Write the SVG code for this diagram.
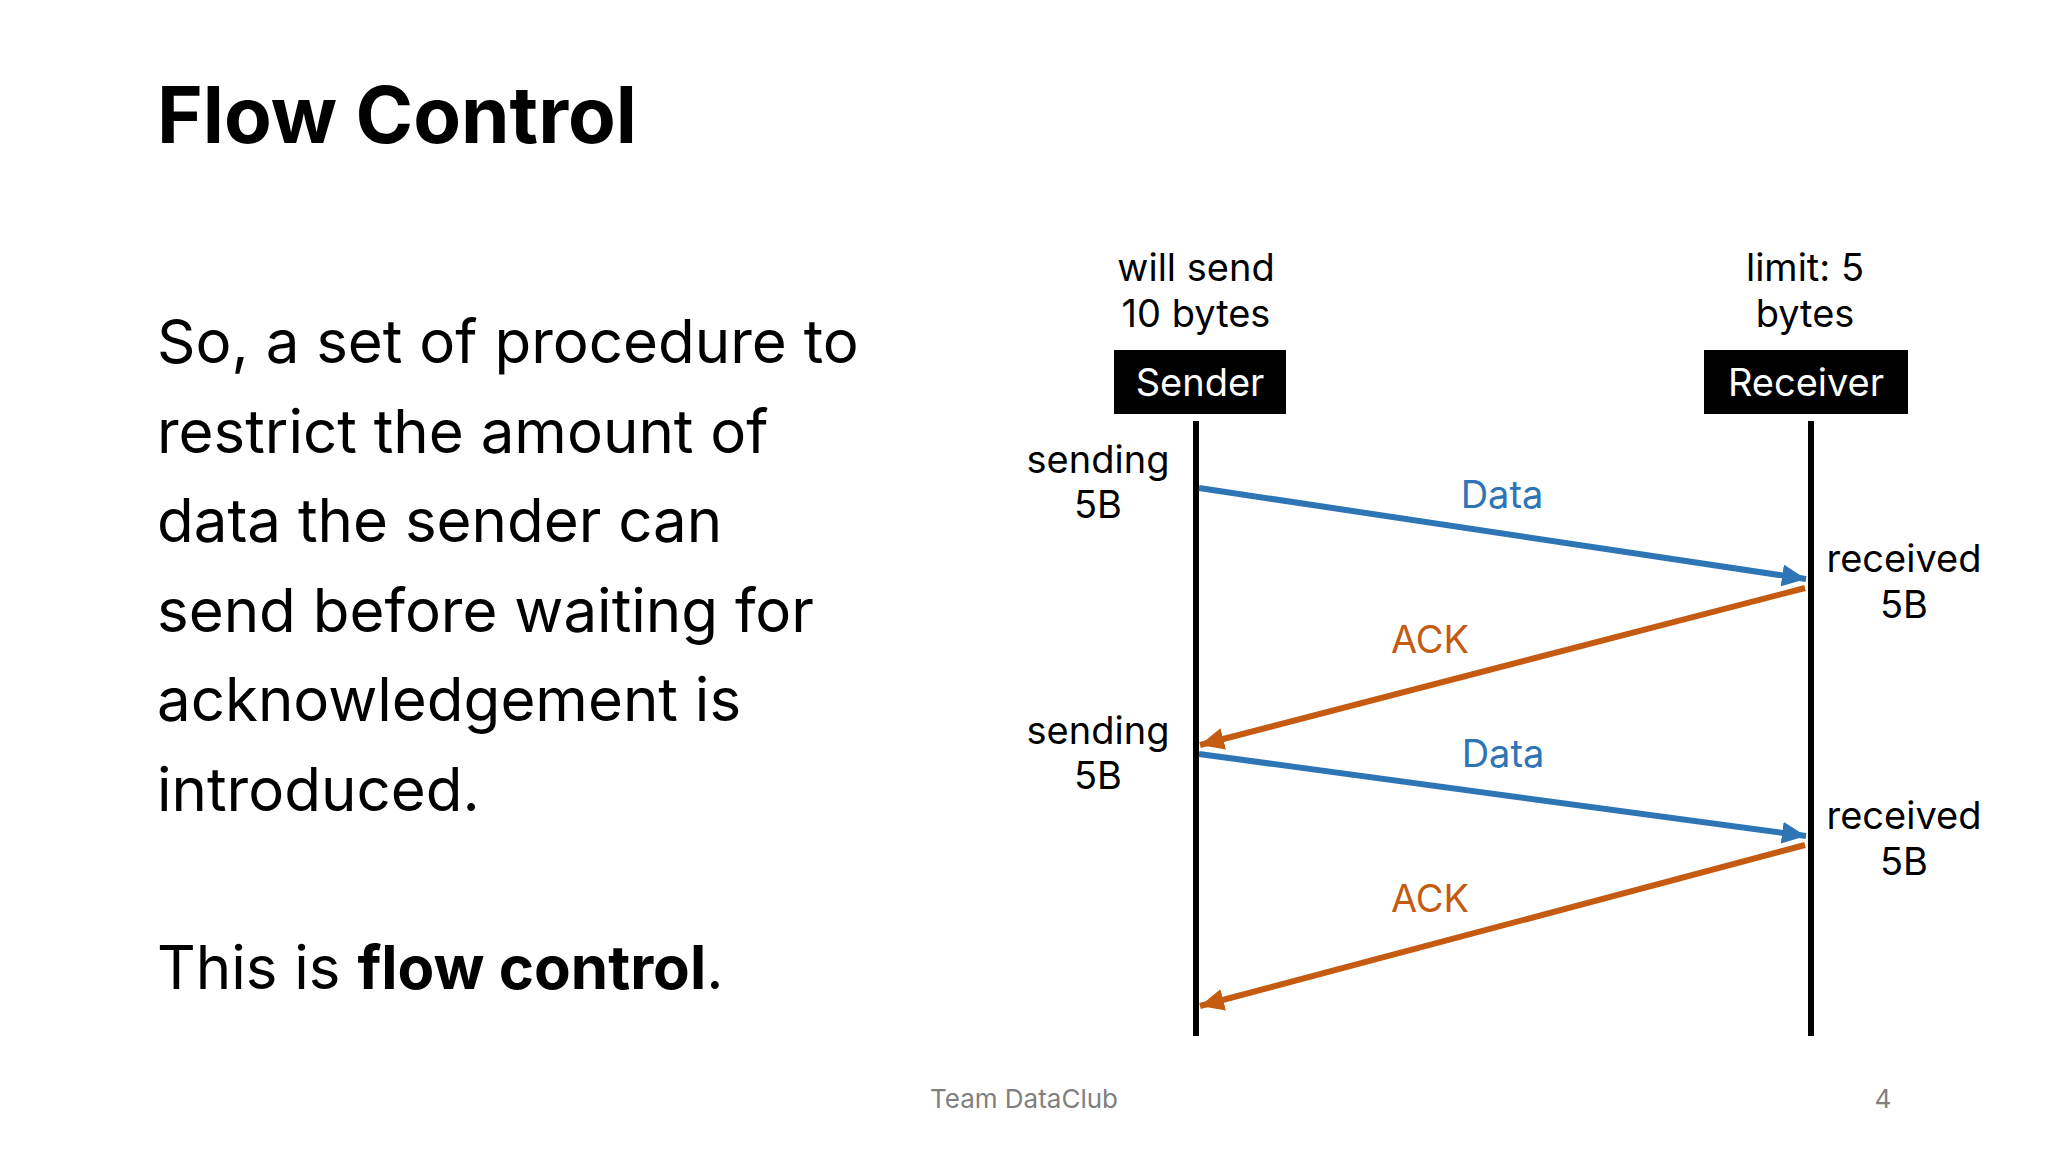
<svg xmlns="http://www.w3.org/2000/svg" width="2048" height="1152" viewBox="0 0 2048 1152">
<style>
text{font-family:Inter,"Noto Sans","Liberation Sans",sans-serif;}
.title{font-size:78px;font-weight:700;fill:#000;}
.body{font-size:60px;fill:#000;}
.lbl{font-size:38px;fill:#000;text-anchor:middle;}
.box{fill:#000;}
.boxt{font-size:38px;fill:#fff;text-anchor:middle;}
.life{stroke:#000;stroke-width:6;}
.data{stroke:#2E75B6;stroke-width:6;fill:none;}
.ack{stroke:#C55A11;stroke-width:6;fill:none;}
.dlbl{font-size:38px;fill:#2E75B6;text-anchor:middle;}
.albl{font-size:38px;fill:#C55A11;text-anchor:middle;}
.foot{font-size:26px;fill:#808080;}
</style>
<defs>
<marker id="ab" markerUnits="userSpaceOnUse" markerWidth="26" markerHeight="22" refX="24" refY="11" orient="auto"><path d="M0,0 L24,11 L0,22 Z" fill="#2E75B6"/></marker>
<marker id="ao" markerUnits="userSpaceOnUse" markerWidth="26" markerHeight="22" refX="24" refY="11" orient="auto"><path d="M0,0 L24,11 L0,22 Z" fill="#C55A11"/></marker>
</defs>
<rect width="2048" height="1152" fill="#fff"/>
<text class="title" x="157" y="143">Flow Control</text>
<g id="bodytext">
<text class="body" x="157" y="363">So, a set of procedure to</text>
<text class="body" x="157" y="453">restrict the amount of</text>
<text class="body" x="157" y="542">data the sender can</text>
<text class="body" x="157" y="632">send before waiting for</text>
<text class="body" x="157" y="721">acknowledgement is</text>
<text class="body" x="157" y="811">introduced.</text>
<text class="body" x="157" y="989">This is <tspan font-weight="700">flow control</tspan>.</text>
</g>
<g id="sender">
<text class="lbl" x="1196" y="281">will send</text>
<text class="lbl" x="1196" y="327">10 bytes</text>
<rect class="box" x="1114" y="350" width="172" height="64"/>
<text class="boxt" x="1200" y="396">Sender</text>
<line class="life" x1="1196" y1="421" x2="1196" y2="1036"/>
</g>
<g id="receiver">
<text class="lbl" x="1805" y="281">limit: 5</text>
<text class="lbl" x="1805" y="327">bytes</text>
<rect class="box" x="1704" y="350" width="204" height="64"/>
<text class="boxt" x="1806" y="396">Receiver</text>
<line class="life" x1="1811" y1="421" x2="1811" y2="1036"/>
</g>
<g id="annotations">
<text class="lbl" x="1098" y="473">sending</text>
<text class="lbl" x="1098" y="518">5B</text>
<text class="lbl" x="1098" y="744">sending</text>
<text class="lbl" x="1098" y="789">5B</text>
<text class="lbl" x="1904" y="572">received</text>
<text class="lbl" x="1904" y="618">5B</text>
<text class="lbl" x="1904" y="829">received</text>
<text class="lbl" x="1904" y="875">5B</text>
</g>
<g id="connectors">
<line class="data" x1="1199" y1="488" x2="1806" y2="579" marker-end="url(#ab)"/>
<line class="ack" x1="1805" y1="588" x2="1200" y2="745" marker-end="url(#ao)"/>
<line class="data" x1="1199" y1="754" x2="1806" y2="836" marker-end="url(#ab)"/>
<line class="ack" x1="1805" y1="845" x2="1200" y2="1006" marker-end="url(#ao)"/>
<text class="dlbl" x="1502" y="508">Data</text>
<text class="albl" x="1430" y="653">ACK</text>
<text class="dlbl" x="1503" y="767">Data</text>
<text class="albl" x="1430" y="912">ACK</text>
</g>
<g id="footer">
<text class="foot" x="1024" y="1108" text-anchor="middle">Team DataClub</text>
<text class="foot" x="1883" y="1108" text-anchor="middle">4</text>
</g>
</svg>
